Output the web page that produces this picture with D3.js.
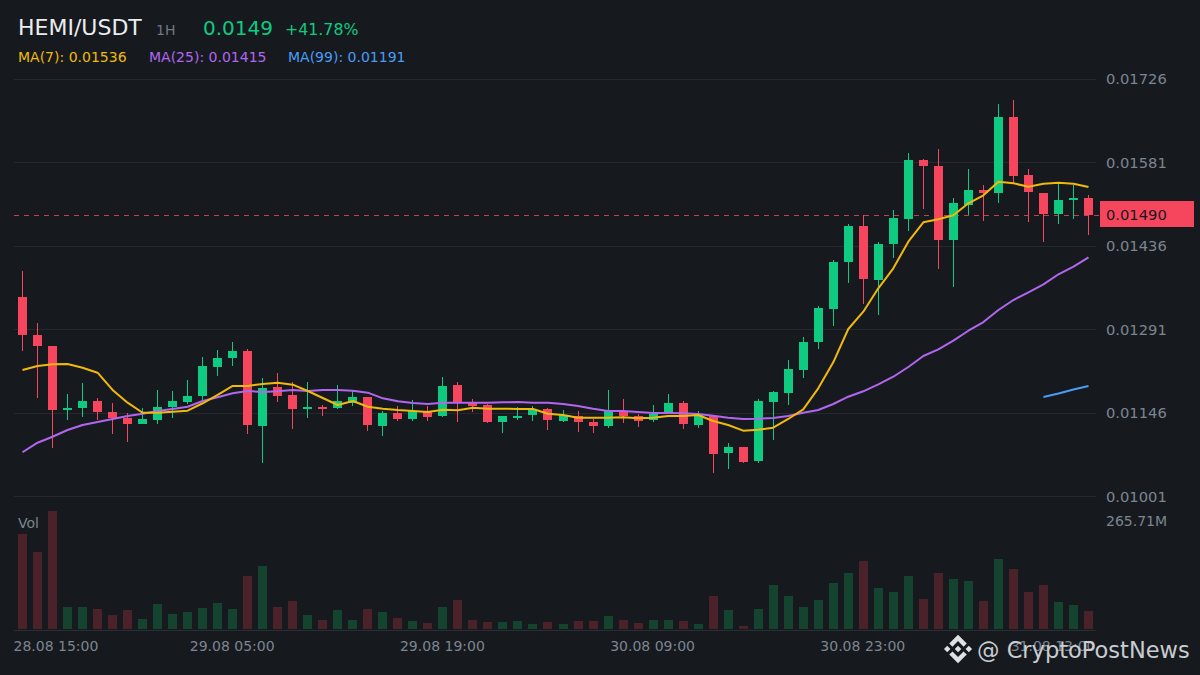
<!DOCTYPE html>
<html>
<head>
<meta charset="utf-8">
<script src="https://cdn.jsdelivr.net/npm/d3@7/dist/d3.min.js"></script>
<style>html,body{margin:0;padding:0;background:#161a1e;overflow:hidden}svg{display:block}text{font-family:"DejaVu Sans",sans-serif}</style>
</head>
<body>
<script>
const open_=[0.01347,0.01282,0.01262,0.01151,0.01155,0.01167,0.01148,0.01137,0.01127,0.01134,0.01156,0.01165,0.01176,0.01226,0.01241,0.01254,0.01123,0.01191,0.01177,0.01153,0.01156,0.01155,0.01163,0.01174,0.01123,0.01146,0.01136,0.01150,0.01141,0.01195,0.01165,0.01160,0.01130,0.01137,0.01143,0.01153,0.01132,0.01141,0.01130,0.01123,0.01150,0.01141,0.01134,0.01146,0.01163,0.01125,0.01141,0.01077,0.01087,0.01063,0.01165,0.01181,0.01221,0.01269,0.01327,0.01408,0.01471,0.01377,0.01439,0.01483,0.01585,0.01575,0.01446,0.01507,0.01533,0.01528,0.01660,0.01559,0.01528,0.01492,0.01516,0.01519];
const high=[0.01393,0.01302,0.01262,0.01179,0.01198,0.01172,0.01163,0.01146,0.01155,0.01186,0.01184,0.01203,0.01243,0.01255,0.01269,0.01257,0.01207,0.01215,0.01200,0.01200,0.01160,0.01195,0.01184,0.01174,0.01150,0.01158,0.01169,0.01158,0.01209,0.01200,0.01170,0.01162,0.01141,0.01156,0.01158,0.01155,0.01151,0.01150,0.01136,0.01186,0.01170,0.01144,0.01160,0.01179,0.01167,0.01150,0.01143,0.01094,0.01087,0.01170,0.01184,0.01238,0.01278,0.01332,0.01412,0.01474,0.01490,0.01443,0.01498,0.01597,0.01587,0.01604,0.01519,0.01570,0.01542,0.01683,0.01690,0.01570,0.01528,0.01545,0.01542,0.01525];
const low=[0.01254,0.01172,0.01085,0.01134,0.01139,0.01134,0.01110,0.01096,0.01127,0.01127,0.01137,0.01162,0.01165,0.01210,0.01228,0.01110,0.01059,0.01165,0.01118,0.01137,0.01141,0.01153,0.01158,0.01115,0.01106,0.01132,0.01132,0.01132,0.01139,0.01130,0.01148,0.01129,0.01111,0.01134,0.01132,0.01117,0.01130,0.01113,0.01111,0.01120,0.01129,0.01122,0.01130,0.01144,0.01118,0.01120,0.01042,0.01049,0.01059,0.01059,0.01099,0.01160,0.01207,0.01257,0.01297,0.01372,0.01335,0.01316,0.01415,0.01462,0.01500,0.01396,0.01365,0.01490,0.01479,0.01511,0.01545,0.01478,0.01443,0.01474,0.01483,0.01455];
const close_=[0.01282,0.01262,0.01151,0.01155,0.01167,0.01148,0.01137,0.01127,0.01136,0.01156,0.01167,0.01176,0.01228,0.01241,0.01254,0.01125,0.01189,0.01176,0.01153,0.01156,0.01153,0.01167,0.01174,0.01125,0.01146,0.01136,0.01150,0.01139,0.01193,0.01165,0.01158,0.01130,0.01141,0.01141,0.01153,0.01134,0.01143,0.01130,0.01123,0.01150,0.01141,0.01132,0.01144,0.01163,0.01127,0.01144,0.01075,0.01087,0.01061,0.01167,0.01182,0.01222,0.01269,0.01328,0.01408,0.01471,0.01379,0.01439,0.01485,0.01585,0.01575,0.01446,0.01511,0.01533,0.01528,0.01660,0.01558,0.01530,0.01492,0.01516,0.01519,0.01490];
const volume=[232.7,188.6,289.0,53.9,53.9,49.0,34.3,46.5,24.5,61.2,36.7,41.6,51.4,63.7,49.0,129.8,154.3,53.9,68.6,34.3,22.0,46.5,22.0,49.0,41.6,26.9,19.6,14.7,53.9,71.0,22.0,17.1,17.1,19.6,12.2,17.1,12.2,19.6,19.6,31.8,22.0,14.7,22.0,22.0,19.6,12.2,80.8,46.5,7.3,49.0,107.8,80.8,53.9,71.0,112.7,137.1,166.5,100.4,90.6,129.8,73.5,137.1,122.5,117.6,68.6,171.4,146.9,90.6,107.8,66.1,58.8,44.1];
const ma7=[0.012207,0.012276,0.012306,0.012311,0.012247,0.012160,0.011860,0.011639,0.011465,0.011465,0.011483,0.011500,0.011629,0.011773,0.011930,0.011930,0.011964,0.011986,0.011952,0.011842,0.011721,0.011599,0.011668,0.011569,0.011535,0.011512,0.011495,0.011477,0.011517,0.011507,0.011552,0.011535,0.011535,0.011530,0.011530,0.011448,0.011425,0.011378,0.011378,0.011378,0.011385,0.011368,0.011378,0.011408,0.011408,0.011425,0.011321,0.011252,0.011153,0.011170,0.011205,0.011356,0.011524,0.011889,0.012340,0.012919,0.013219,0.013625,0.013973,0.014435,0.014772,0.014824,0.014893,0.015102,0.015240,0.015477,0.015449,0.015390,0.015442,0.015459,0.015442,0.015385];
const ma25=[0.010778,0.010944,0.011048,0.011165,0.011252,0.011304,0.011356,0.011408,0.011448,0.011495,0.011530,0.011569,0.011668,0.011733,0.011802,0.011842,0.011825,0.011837,0.011860,0.011842,0.011860,0.011860,0.011847,0.011813,0.011715,0.011663,0.011634,0.011616,0.011639,0.011639,0.011639,0.011639,0.011646,0.011651,0.011639,0.011639,0.011616,0.011582,0.011535,0.011495,0.011495,0.011477,0.011460,0.011460,0.011455,0.011443,0.011413,0.011378,0.011356,0.011361,0.011373,0.011408,0.011465,0.011512,0.011616,0.011743,0.011837,0.011958,0.012090,0.012259,0.012450,0.012566,0.012716,0.012889,0.013040,0.013249,0.013422,0.013556,0.013695,0.013869,0.014001,0.014164];
const ma99Start=68;
const ma99=[0.011738,0.011799,0.011868,0.011929];
const priceTicks=[0.01726,0.01581,0.01436,0.01291,0.01146,0.01001];
const lastPrice=0.01490;
const timeTicks=[0,14,28,42,56,70];
const timeLabels=["28.08 15:00","29.08 05:00","29.08 19:00","30.08 09:00","30.08 23:00","31.08 13:00"];
const volMaxLabel=265.71;
const symbol="HEMI/USDT",interval="1H",priceText="0.0149",changeText="+41.78%";
const maLabels=["MA(7): 0.01536","MA(25): 0.01415","MA(99): 0.01191"];

const W=1200,H=675;
const BG="#161a1e",UP="#0ecb81",DOWN="#f6465d",GRID="#25292e",AXIS="#7d8591";
const svg=d3.select("body").append("svg").attr("width",W).attr("height",H).attr("viewBox",`0 0 ${W} ${H}`);
svg.append("rect").attr("width",W).attr("height",H).attr("fill",BG);

const x=d3.scaleLinear().domain([0,71]).range([22.5,1088.5]);
const y=d3.scaleLinear().domain([0.01001,0.01726]).range([496.5,79]);
const yVol=d3.scaleLinear().domain([0,volMaxLabel]).range([629,520.5]);
const idx=d3.range(open_.length);
const isUp=i=>close_[i]>=open_[i];
const col=i=>isUp(i)?UP:DOWN;
const px=i=>Math.floor(x(i));

// grid
svg.append("g").selectAll("line").data(priceTicks).join("line")
  .attr("x1",14).attr("x2",1096).attr("y1",d=>Math.floor(y(d))+.5).attr("y2",d=>Math.floor(y(d))+.5)
  .attr("stroke",GRID).attr("stroke-width",1);
// last price
svg.append("line").attr("x1",14).attr("x2",1100).attr("y1",Math.round(y(lastPrice))+.5).attr("y2",Math.round(y(lastPrice))+.5)
  .attr("stroke",DOWN).attr("stroke-opacity",.8).attr("stroke-width",1).attr("stroke-dasharray","5 5");
// volume base
svg.append("line").attr("x1",14).attr("x2",1096).attr("y1",630.5).attr("y2",630.5).attr("stroke","#2a2e33");

// volume
svg.append("g").attr("shape-rendering","crispEdges").selectAll("rect").data(idx).join("rect")
  .attr("x",i=>px(i)-4).attr("width",9)
  .attr("y",i=>Math.round(yVol(volume[i]))).attr("height",i=>629-Math.round(yVol(volume[i])))
  .attr("fill",i=>isUp(i)?"#14432f":"#4b222a");

// candles
const cg=svg.append("g").attr("shape-rendering","crispEdges");
cg.selectAll("rect.w").data(idx).join("rect").attr("class","w")
  .attr("x",i=>px(i)).attr("width",1)
  .attr("y",i=>Math.round(y(high[i]))).attr("height",i=>Math.round(y(low[i]))-Math.round(y(high[i])))
  .attr("fill",col);
cg.selectAll("rect.b").data(idx).join("rect").attr("class","b")
  .attr("x",i=>px(i)-4).attr("width",9)
  .attr("y",i=>Math.round(y(Math.max(open_[i],close_[i]))))
  .attr("height",i=>Math.max(1,Math.round(y(Math.min(open_[i],close_[i])))-Math.round(y(Math.max(open_[i],close_[i])))))
  .attr("fill",col);

// moving averages
const line=d3.line().x(d=>x(d[0])).y(d=>y(d[1]));
function ma(arr,start,color){
  svg.append("path").datum(arr.map((v,k)=>[k+start,v])).attr("d",line)
    .attr("fill","none").attr("stroke",color).attr("stroke-width",2).attr("stroke-linejoin","round");
}
ma(ma99,ma99Start,"#4a9cf5");
ma(ma25,0,"#b266f0");
ma(ma7,0,"#f0b90b");

// price axis
const pAxis=svg.append("g").attr("transform","translate(1106,0)")
  .call(d3.axisRight(y).tickValues(priceTicks).tickFormat(d3.format(".5f")).tickSize(0).tickPadding(0));
pAxis.select(".domain").remove();
pAxis.selectAll("text").attr("fill",AXIS).attr("font-size",14.7).attr("font-family","DejaVu Sans");

// last price tag
svg.append("rect").attr("x",1100).attr("y",201).attr("width",94).attr("height",26).attr("fill",DOWN);
svg.append("text").attr("x",1106).attr("y",y(lastPrice)).attr("dy","0.35em").attr("font-size",14.7).attr("fill","#161a1e").text(d3.format(".5f")(lastPrice));

// volume labels
svg.append("text").attr("x",18).attr("y",528).attr("font-size",14).attr("fill",AXIS).text("Vol");
svg.append("text").attr("x",1106).attr("y",526).attr("font-size",14).attr("fill",AXIS).text(d3.format(".2f")(volMaxLabel)+"M");

// time axis
const tAxis=svg.append("g").attr("transform","translate(-1,651)")
  .call(d3.axisBottom(x).tickValues(timeTicks).tickFormat((d,k)=>timeLabels[k]).tickSize(0).tickPadding(0));
tAxis.select(".domain").remove();
tAxis.selectAll("text").attr("fill",AXIS).attr("font-size",14).attr("font-family","DejaVu Sans").attr("dy","0").attr("y",0);
tAxis.selectAll("text").filter((d,k)=>k===0).attr("text-anchor","start").attr("transform",`translate(${14-x(0)},0)`);
tAxis.selectAll("text").filter((d,k)=>k===timeTicks.length-1).attr("text-anchor","end").attr("transform",`translate(${1096-x(70)},0)`);

// header
svg.append("text").attr("x",18).attr("y",35).attr("font-size",22).attr("fill","#eaecef").text(symbol);
svg.append("text").attr("x",156).attr("y",35).attr("font-size",14).attr("fill","#6f7784").text(interval);
svg.append("text").attr("x",203).attr("y",35).attr("font-size",20).attr("fill",UP).text(priceText);
svg.append("text").attr("x",285).attr("y",35).attr("font-size",15.8).attr("fill",UP).text(changeText);
const maX=[18,149,288],maC=["#f0b90b","#b266f0","#4a9cf5"];
maLabels.forEach((t,k)=>svg.append("text").attr("x",maX[k]).attr("y",62).attr("font-size",14).attr("fill",maC[k]).text(t));

// watermark
svg.append("path").attr("transform","translate(944,635) scale(0.219)").attr("fill","#dfe1e4")
  .attr("d","M38.73 53.2L64 27.93l25.29 25.28 14.71-14.71L64 -1.5 24.02 38.49zM0 64l14.71-14.71L29.42 64 14.71 78.71zM38.73 74.8L64 100.07l25.29-25.28 14.72 14.7L64 129.5 24.02 89.52zM98.58 64l14.71-14.71L128 64l-14.71 14.71zM78.92 64L64 49.08 49.14 63.94 64 78.91z");
svg.append("text").attr("x",977).attr("y",658).attr("font-size",22.5).attr("font-family","Noto Sans").attr("fill","#c9ccd0").text("@ CryptoPostNews");
</script>
</body>
</html>
